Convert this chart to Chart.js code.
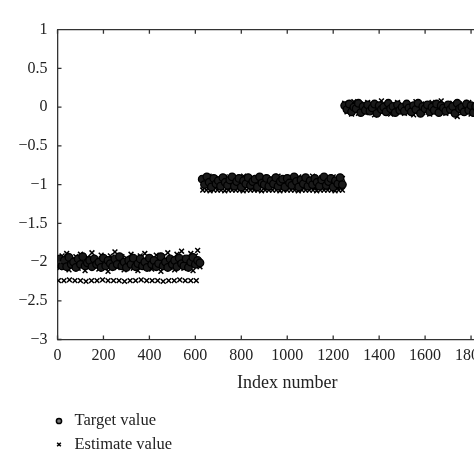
<!DOCTYPE html>
<html><head><meta charset="utf-8">
<script src="https://cdn.jsdelivr.net/npm/chart.js@4.4.0/dist/chart.umd.min.js"></script>
<style>html,body{margin:0;padding:0;overflow:hidden;background:#fff;width:474px;height:474px}canvas{display:block}</style>
</head><body>
<canvas id="c" width="540" height="474"></canvas>
<script>
// ---- data ----
const indexNumbers = [
  0,10,20,30,40,50,60,70,80,90,100,110,120,130,140,150,160,170,180,190,
  200,210,220,230,240,250,260,270,280,290,300,310,320,330,340,350,360,370,380,390,
  400,410,420,430,440,450,460,470,480,490,500,510,520,530,540,550,560,570,580,590,
  600,610,620,
  630,640,650,660,670,680,690,700,710,720,730,740,750,760,770,780,790,
  800,810,820,830,840,850,860,870,880,890,900,910,920,930,940,950,960,970,980,990,
  1000,1010,1020,1030,1040,1050,1060,1070,1080,1090,1100,1110,1120,1130,1140,1150,1160,1170,1180,1190,
  1200,1210,1220,1230,1240,
  1250,1260,1270,1280,1290,1300,1310,1320,1330,1340,1350,1360,1370,1380,1390,
  1400,1410,1420,1430,1440,1450,1460,1470,1480,1490,1500,1510,1520,1530,1540,1550,1560,1570,1580,1590,
  1600,1610,1620,1630,1640,1650,1660,1670,1680,1690,1700,1710,1720,1730,1740,1750,1760,1770,1780,1790,
  1800,1810,1820,1830,1840,1850,1860
];
const targetValues = [
  -2.02,-1.96,-2.05,-1.98,-2.06,-1.94,-2.03,-2.00,-2.07,-1.96,
  -2.03,-1.93,-2.05,-2.01,-1.98,-2.06,-1.96,-2.03,-2.00,-2.07,
  -1.95,-2.05,-1.98,-2.02,-2.06,-1.96,-2.03,-1.93,-2.05,-2.00,
  -2.07,-1.98,-2.03,-1.95,-2.06,-2.02,-1.96,-2.05,-2.00,-2.07,
  -1.95,-2.03,-1.98,-2.06,-2.02,-1.93,-2.05,-2.00,-2.07,-1.96,
  -2.03,-1.98,-2.06,-1.95,-2.02,-2.05,-1.96,-2.07,-2.00,-1.94,
  -2.03,-1.98,-2.01,
  -0.93,-1.00,-0.90,-0.97,-1.03,-0.92,-0.99,-0.95,-1.02,-0.91,
  -0.97,-1.01,-0.94,-0.90,-1.02,-0.96,-0.92,-1.03,-0.95,-0.99,
  -0.91,-1.01,-0.96,-0.93,-1.03,-0.90,-0.98,-1.00,-0.92,-1.02,
  -0.95,-0.99,-0.91,-1.02,-0.96,-0.93,-1.03,-0.92,-0.98,-1.01,
  -0.90,-0.96,-1.03,-0.94,-0.99,-0.91,-1.02,-0.95,-1.00,-0.92,
  -0.97,-1.02,-0.94,-0.90,-1.01,-0.96,-0.92,-1.03,-0.95,-0.99,
  -0.91,-1.00,
  0.02,-0.03,0.04,-0.06,0.00,-0.02,0.05,-0.07,0.01,-0.04,
  0.03,-0.05,-0.01,0.04,-0.08,0.02,-0.03,0.00,-0.06,0.05,
  -0.02,0.01,-0.07,0.03,-0.04,0.00,-0.05,0.04,-0.01,-0.06,
  0.02,-0.03,0.05,-0.08,0.01,-0.02,0.03,-0.06,0.00,-0.04,
  0.04,-0.07,0.02,-0.01,-0.05,0.03,-0.03,0.01,-0.08,0.05,
  -0.02,0.00,-0.06,0.04,-0.04,0.02,-0.07,0.01,-0.03,0.03,
  -0.05,0.00
];
const estimateValues = [
  -1.95,-2.07,-1.92,-2.03,-1.89,-2.10,-1.97,-2.05,-1.93,-2.08,
  -1.90,-2.02,-2.11,-1.94,-2.06,-1.88,-2.04,-1.98,-2.09,-1.91,
  -2.03,-1.96,-2.12,-1.92,-2.05,-1.87,-2.07,-1.99,-1.93,-2.10,
  -1.95,-2.04,-1.90,-2.08,-1.97,-2.11,-1.92,-2.02,-1.89,-2.06,
  -1.94,-2.09,-1.98,-1.91,-2.05,-2.12,-1.93,-2.03,-1.88,-2.07,
  -1.96,-2.10,-1.90,-2.04,-1.86,-2.08,-1.94,-2.02,-1.89,-2.11,
  -1.92,-1.85,-2.06,
  -0.92,-1.01,-0.95,-0.89,-1.04,-0.94,-0.99,-0.91,-1.02,-0.96,
  -0.90,-1.04,-0.93,-0.98,-1.00,-0.92,-1.03,-0.95,-0.89,-1.01,
  -0.94,-0.99,-0.91,-1.04,-0.96,-0.93,-1.02,-0.90,-0.98,-1.04,
  -0.92,-1.00,-0.95,-0.89,-1.03,-0.94,-0.99,-0.91,-1.01,-0.96,
  -0.93,-1.04,-0.90,-0.98,-1.02,-0.92,-0.95,-1.00,-0.89,-1.04,
  -0.94,-0.99,-0.91,-1.03,-0.96,-0.93,-1.01,-0.90,-0.98,-1.04,
  -0.95,-0.92,
  0.05,-0.06,0.02,-0.09,0.07,-0.03,-0.08,0.04,-0.01,-0.07,
  0.06,-0.04,0.01,-0.10,0.03,-0.05,0.08,-0.02,-0.07,0.04,
  -0.09,0.02,-0.04,0.06,-0.06,0.00,-0.08,0.05,-0.03,0.03,
  -0.10,0.07,-0.05,0.01,-0.07,0.04,-0.02,-0.09,0.06,-0.04,
  0.02,-0.06,0.08,-0.01,-0.08,0.03,-0.05,0.05,-0.03,-0.12,
  0.04,-0.07,0.01,-0.04,0.06,-0.09,0.02,-0.02,0.05,-0.06,
  0.00,-0.08
];
// extra estimate points forming the lower rows
const lowRowIndex = [
  4,28,52,76,100,124,148,172,196,220,244,268,292,316,340,364,388,412,436,460,484,508,532,556,580,604,
  632,648,664,680,696,712,728,744,760,776,792,808,824,840,856,872,888,904,920,936,952,968,984,1000,
  1016,1032,1048,1064,1080,1096,1112,1128,1144,1160,1176,1192,1208,1224,1240
];
const lowRowValues = [
  -2.24,-2.24,-2.23,-2.24,-2.24,-2.25,-2.24,-2.24,-2.23,-2.24,-2.24,-2.24,-2.25,-2.24,-2.24,-2.23,-2.24,-2.24,-2.24,-2.25,-2.24,-2.24,-2.23,-2.24,-2.24,-2.24,
  -1.07,-1.07,-1.08,-1.07,-1.07,-1.07,-1.08,-1.07,-1.07,-1.07,-1.07,-1.08,-1.07,-1.07,-1.07,-1.07,-1.08,-1.07,-1.07,-1.07,-1.07,-1.08,-1.07,-1.07,
  -1.07,-1.07,-1.08,-1.07,-1.07,-1.07,-1.07,-1.08,-1.07,-1.07,-1.07,-1.07,-1.08,-1.07,-1.07
];
const seriesNames = ['Target value', 'Estimate value'];
const xTitle = 'Index number';
const xMin = 0, xMax = 2000, xStep = 200;
const yMin = -3, yMax = 1, yStep = 0.5;

// ---- chart ----
const FONT = "'Liberation Serif', 'DejaVu Serif', serif";
const targetPts = indexNumbers.map((x, i) => ({x, y: targetValues[i]}));
const estimatePts = indexNumbers.map((x, i) => ({x, y: estimateValues[i]}))
  .concat(lowRowIndex.map((x, i) => ({x, y: lowRowValues[i]})));

const framePlugin = {
  id: 'frame',
  afterDraw(chart) {
    const {ctx, chartArea: a, scales: {x, y}} = chart;
    ctx.save();
    ctx.strokeStyle = '#333';
    ctx.lineWidth = 1.3;
    ctx.beginPath();
    ctx.moveTo(a.left, a.top); ctx.lineTo(a.right, a.top);
    x.ticks.forEach(t => {
      const p = x.getPixelForValue(t.value);
      ctx.moveTo(p, a.bottom); ctx.lineTo(p, a.bottom - 4);
      ctx.moveTo(p, a.top); ctx.lineTo(p, a.top + 4);
    });
    y.ticks.forEach(t => {
      const p = y.getPixelForValue(t.value);
      ctx.moveTo(a.left, p); ctx.lineTo(a.left + 4, p);
    });
    ctx.stroke();
    // legend, stacked below the axis title
    ctx.font = "16.5px " + FONT;
    ctx.textBaseline = 'middle';
    ctx.textAlign = 'left';
    const legendFill = ['#777', '#000'];
    chart.data.datasets.forEach((ds, i) => {
      const yy = a.bottom + 81.5 + i * 23.5;
      const xx = a.left + 1.5;
      ctx.fillStyle = legendFill[i];
      ctx.strokeStyle = '#000';
      ctx.lineWidth = 1.5;
      Chart.helpers.drawPoint(ctx, {pointStyle: ds.pointStyle, radius: 2.6, borderWidth: 1.5, rotation: 0}, xx, yy);
      ctx.fillStyle = '#222';
      ctx.fillText(ds.label, xx + 15.5, yy);
    });
    ctx.restore();
  }
};

new Chart(document.getElementById('c'), {
  type: 'scatter',
  data: {
    datasets: [
      {label: seriesNames[0], data: targetPts, pointStyle: 'circle', pointRadius: 3.8,
       borderWidth: 1.3, borderColor: '#000', backgroundColor: '#1a1a1a', showLine: false},
      {label: seriesNames[1], data: estimatePts, pointStyle: 'crossRot', pointRadius: 3.4,
       borderWidth: 1.5, borderColor: '#000', backgroundColor: '#000', showLine: false}
    ]
  },
  options: {
    responsive: false,
    animation: false,
    layout: {padding: {left: 0, top: 29.7, right: 19.5, bottom: 0}},
    plugins: {legend: {display: false}, tooltip: {enabled: false}},
    scales: {
      x: {
        type: 'linear', min: xMin, max: xMax,
        ticks: {stepSize: xStep, padding: 7, color: '#222', font: {family: FONT, size: 16},
                callback: v => String(v)},
        grid: {display: true, drawOnChartArea: false, drawTicks: false},
        border: {display: true, color: '#333', width: 1.3},
        title: {display: true, text: xTitle, color: '#222', font: {family: FONT, size: 18},
                padding: {top: 4, bottom: 80.2}},
        afterFit(s) { s.height = 134.5; }
      },
      y: {
        min: yMin, max: yMax,
        ticks: {stepSize: yStep, padding: 10, color: '#222', font: {family: FONT, size: 16},
                callback: v => (v < 0 ? '\u2212' : '') + Math.abs(v)},
        grid: {display: true, drawOnChartArea: false, drawTicks: false},
        border: {display: true, color: '#333', width: 1.3},
        afterFit(s) { s.width = 57.5; }
      }
    }
  },
  plugins: [framePlugin]
});
</script>
</body></html>
